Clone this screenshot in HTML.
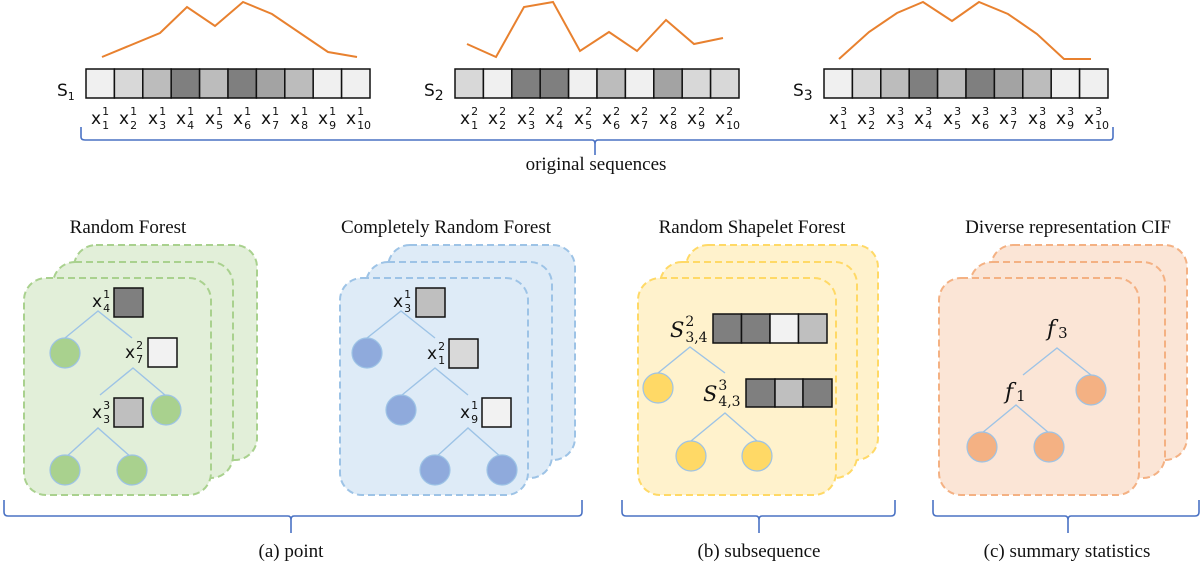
<!DOCTYPE html>
<html><head><meta charset="utf-8"><style>
body{margin:0;background:#fff}
svg{display:block}
.t{font-family:"Liberation Serif",serif;font-size:19px;fill:#111}
.x{font-family:"DejaVu Sans","Liberation Sans",sans-serif;font-size:17px;fill:#111}
.s{font-size:11px}
</style></head><body>
<svg width="1200" height="572" viewBox="0 0 1200 572" xmlns="http://www.w3.org/2000/svg">
<!-- top orange lines -->
<g fill="none" stroke="#e8812f" stroke-width="2">
<polyline points="102,57 160,33 187,7 215,26 243,2 272,14 328,52 357,57"/>
<polyline points="467,44 496,57 524,7 553,2 580,51 609,32 637,51 666,20 694,44 723,38"/>
<polyline points="839,59 869,32 897,13 923,2 952,21 979,2 1008,14 1037,34 1064,59 1091,59"/>
</g>
<!-- sequences -->
<g stroke="#111" stroke-width="1.5">
<g id="s1">
<rect x="86" y="69" width="28.4" height="29" fill="#f0f0f0"/>
<rect x="114.4" y="69" width="28.4" height="29" fill="#d8d8d8"/>
<rect x="142.8" y="69" width="28.4" height="29" fill="#bcbcbc"/>
<rect x="171.2" y="69" width="28.4" height="29" fill="#7f7f7f"/>
<rect x="199.6" y="69" width="28.4" height="29" fill="#bcbcbc"/>
<rect x="228" y="69" width="28.4" height="29" fill="#7f7f7f"/>
<rect x="256.4" y="69" width="28.4" height="29" fill="#a3a3a3"/>
<rect x="284.8" y="69" width="28.4" height="29" fill="#bcbcbc"/>
<rect x="313.2" y="69" width="28.4" height="29" fill="#f0f0f0"/>
<rect x="341.6" y="69" width="28.4" height="29" fill="#f0f0f0"/>
</g>
<rect x="455" y="69" width="28.4" height="29" fill="#d8d8d8"/>
<rect x="483.4" y="69" width="28.4" height="29" fill="#f0f0f0"/>
<rect x="511.8" y="69" width="28.4" height="29" fill="#7f7f7f"/>
<rect x="540.2" y="69" width="28.4" height="29" fill="#7f7f7f"/>
<rect x="568.6" y="69" width="28.4" height="29" fill="#f0f0f0"/>
<rect x="597" y="69" width="28.4" height="29" fill="#bcbcbc"/>
<rect x="625.4" y="69" width="28.4" height="29" fill="#f0f0f0"/>
<rect x="653.8" y="69" width="28.4" height="29" fill="#a3a3a3"/>
<rect x="682.2" y="69" width="28.4" height="29" fill="#d8d8d8"/>
<rect x="710.6" y="69" width="28.4" height="29" fill="#d8d8d8"/>
<use href="#s1" x="738" y="0"/>
</g>
<text class="x" x="57" y="96" font-size="22">S<tspan class="s" font-size="14" dy="4">1</tspan></text>
<text class="x" x="424" y="96" font-size="22">S<tspan font-size="14" dy="4">2</tspan></text>
<text class="x" x="793" y="96" font-size="22">S<tspan font-size="14" dy="4">3</tspan></text>
<!-- x labels -->
<g class="x">
<g id="lab1">
<text x="91" y="124">x<tspan class="s" dx="1" dy="-9">1</tspan><tspan class="s" dx="-7" dy="14">1</tspan></text>
<text x="119" y="124">x<tspan class="s" dx="1" dy="-9">1</tspan><tspan class="s" dx="-7" dy="14">2</tspan></text>
<text x="148" y="124">x<tspan class="s" dx="1" dy="-9">1</tspan><tspan class="s" dx="-7" dy="14">3</tspan></text>
<text x="176" y="124">x<tspan class="s" dx="1" dy="-9">1</tspan><tspan class="s" dx="-7" dy="14">4</tspan></text>
<text x="205" y="124">x<tspan class="s" dx="1" dy="-9">1</tspan><tspan class="s" dx="-7" dy="14">5</tspan></text>
<text x="233" y="124">x<tspan class="s" dx="1" dy="-9">1</tspan><tspan class="s" dx="-7" dy="14">6</tspan></text>
<text x="261" y="124">x<tspan class="s" dx="1" dy="-9">1</tspan><tspan class="s" dx="-7" dy="14">7</tspan></text>
<text x="290" y="124">x<tspan class="s" dx="1" dy="-9">1</tspan><tspan class="s" dx="-7" dy="14">8</tspan></text>
<text x="318" y="124">x<tspan class="s" dx="1" dy="-9">1</tspan><tspan class="s" dx="-7" dy="14">9</tspan></text>
<text x="346" y="124">x<tspan class="s" dx="1" dy="-9">1</tspan><tspan class="s" dx="-7" dy="14">10</tspan></text>
</g>
<text x="460" y="124">x<tspan class="s" dx="1" dy="-9">2</tspan><tspan class="s" dx="-7" dy="14">1</tspan></text>
<text x="488" y="124">x<tspan class="s" dx="1" dy="-9">2</tspan><tspan class="s" dx="-7" dy="14">2</tspan></text>
<text x="517" y="124">x<tspan class="s" dx="1" dy="-9">2</tspan><tspan class="s" dx="-7" dy="14">3</tspan></text>
<text x="545" y="124">x<tspan class="s" dx="1" dy="-9">2</tspan><tspan class="s" dx="-7" dy="14">4</tspan></text>
<text x="574" y="124">x<tspan class="s" dx="1" dy="-9">2</tspan><tspan class="s" dx="-7" dy="14">5</tspan></text>
<text x="602" y="124">x<tspan class="s" dx="1" dy="-9">2</tspan><tspan class="s" dx="-7" dy="14">6</tspan></text>
<text x="630" y="124">x<tspan class="s" dx="1" dy="-9">2</tspan><tspan class="s" dx="-7" dy="14">7</tspan></text>
<text x="659" y="124">x<tspan class="s" dx="1" dy="-9">2</tspan><tspan class="s" dx="-7" dy="14">8</tspan></text>
<text x="687" y="124">x<tspan class="s" dx="1" dy="-9">2</tspan><tspan class="s" dx="-7" dy="14">9</tspan></text>
<text x="715" y="124">x<tspan class="s" dx="1" dy="-9">2</tspan><tspan class="s" dx="-7" dy="14">10</tspan></text>
<text x="829" y="124">x<tspan class="s" dx="1" dy="-9">3</tspan><tspan class="s" dx="-7" dy="14">1</tspan></text>
<text x="857" y="124">x<tspan class="s" dx="1" dy="-9">3</tspan><tspan class="s" dx="-7" dy="14">2</tspan></text>
<text x="886" y="124">x<tspan class="s" dx="1" dy="-9">3</tspan><tspan class="s" dx="-7" dy="14">3</tspan></text>
<text x="914" y="124">x<tspan class="s" dx="1" dy="-9">3</tspan><tspan class="s" dx="-7" dy="14">4</tspan></text>
<text x="943" y="124">x<tspan class="s" dx="1" dy="-9">3</tspan><tspan class="s" dx="-7" dy="14">5</tspan></text>
<text x="971" y="124">x<tspan class="s" dx="1" dy="-9">3</tspan><tspan class="s" dx="-7" dy="14">6</tspan></text>
<text x="999" y="124">x<tspan class="s" dx="1" dy="-9">3</tspan><tspan class="s" dx="-7" dy="14">7</tspan></text>
<text x="1028" y="124">x<tspan class="s" dx="1" dy="-9">3</tspan><tspan class="s" dx="-7" dy="14">8</tspan></text>
<text x="1056" y="124">x<tspan class="s" dx="1" dy="-9">3</tspan><tspan class="s" dx="-7" dy="14">9</tspan></text>
<text x="1084" y="124">x<tspan class="s" dx="1" dy="-9">3</tspan><tspan class="s" dx="-7" dy="14">10</tspan></text>
</g>
<!-- braces -->
<g fill="none" stroke="#4a72c4" stroke-width="1.6">
<path d="M81,127 V137 Q81,140 85,140 H592 Q595,140 595,144 V155 M595,144 Q595,140 598,140 H1110 Q1113,140 1113,137 V127"/>
<path d="M4,500 V512 Q4,516 8,516 H288 Q291,516 291,520 V533 M291,520 Q291,516 294,516 H578 Q582,516 582,512 V500"/>
<path d="M622,500 V512 Q622,516 626,516 H756 Q759,516 759,520 V533 M759,520 Q759,516 762,516 H891 Q895,516 895,512 V500"/>
<path d="M933,500 V512 Q933,516 937,516 H1065 Q1068,516 1068,520 V533 M1068,520 Q1068,516 1071,516 H1195 Q1199,516 1199,512 V500"/>
</g>
<text class="t" x="596" y="170" text-anchor="middle">original sequences</text>
<text class="t" x="291" y="557" text-anchor="middle">(a) point</text>
<text class="t" x="759" y="557" text-anchor="middle">(b) subsequence</text>
<text class="t" x="1067" y="557" text-anchor="middle">(c) summary statistics</text>
<!-- titles -->
<text class="t" x="128" y="233" text-anchor="middle">Random Forest</text>
<text class="t" x="446" y="233" text-anchor="middle">Completely Random Forest</text>
<text class="t" x="752" y="233" text-anchor="middle">Random Shapelet Forest</text>
<text class="t" x="1068" y="233" text-anchor="middle">Diverse representation CIF</text>
<!-- cards -->
<g stroke-width="2" stroke-dasharray="7,4">
<g fill="#e2efd9" stroke="#a9d18e">
<rect x="74" y="245" width="183" height="215" rx="22"/>
<rect x="53" y="262" width="180" height="216" rx="22"/>
<rect x="24" y="278" width="187" height="217" rx="22"/>
</g>
<g fill="#deebf7" stroke="#9dc3e6">
<rect x="388" y="245" width="187" height="215" rx="22"/>
<rect x="366" y="262" width="186" height="216" rx="22"/>
<rect x="340" y="278" width="188" height="217" rx="22"/>
</g>
<g fill="#fff2cc" stroke="#ffd966">
<rect x="686" y="245" width="192" height="215" rx="22"/>
<rect x="660" y="262" width="197" height="216" rx="22"/>
<rect x="638" y="278" width="198" height="217" rx="22"/>
</g>
<g fill="#fbe5d6" stroke="#f4b183">
<rect x="991" y="245" width="196" height="215" rx="22"/>
<rect x="970" y="262" width="195" height="216" rx="22"/>
<rect x="939" y="278" width="200" height="217" rx="22"/>
</g>
</g>
<!-- tree edges -->
<g stroke="#9dc3e6" stroke-width="1.4" fill="none">
<path d="M65,338 L98,311 L132,338 M100,395 L133,368 L165,395 M65,458 L98,428 L132,458"/>
<path d="M367,338 L401,311 L435,338 M402,395 L435,368 L468,395 M435,458 L468,428 L502,458"/>
<path d="M658,373 L690,347 L725,373 M691,441 L725,413 L757,441"/>
<path d="M1023,375 L1057,348 L1091,375 M982,433 L1016,405 L1049,433"/>
</g>
<!-- circles -->
<g stroke="#9dc3e6" stroke-width="1.2">
<g fill="#a9d18e"><circle cx="65" cy="353" r="15"/><circle cx="166" cy="410" r="15"/><circle cx="65" cy="470" r="15"/><circle cx="132" cy="470" r="15"/></g>
<g fill="#8faadc"><circle cx="367" cy="353" r="15"/><circle cx="401" cy="410" r="15"/><circle cx="435" cy="470" r="15"/><circle cx="502" cy="470" r="15"/></g>
<g fill="#ffd966"><circle cx="658" cy="388" r="15"/><circle cx="691" cy="456" r="15"/><circle cx="757" cy="456" r="15"/></g>
<g fill="#f4b183"><circle cx="1091" cy="390" r="15"/><circle cx="982" cy="447" r="15"/><circle cx="1049" cy="447" r="15"/></g>
</g>
<!-- squares -->
<g stroke="#111" stroke-width="1.5">
<rect x="114" y="288" width="29" height="29" fill="#7f7f7f"/>
<rect x="148" y="338" width="29" height="29" fill="#f2f2f2"/>
<rect x="114" y="398" width="29" height="29" fill="#bfbfbf"/>
<rect x="416" y="288" width="29" height="29" fill="#bfbfbf"/>
<rect x="449" y="339" width="29" height="29" fill="#d9d9d9"/>
<rect x="482" y="398" width="29" height="29" fill="#f2f2f2"/>
<rect x="713" y="314" width="28.5" height="29" fill="#7f7f7f"/>
<rect x="741.5" y="314" width="28.5" height="29" fill="#7f7f7f"/>
<rect x="770" y="314" width="28.5" height="29" fill="#f2f2f2"/>
<rect x="798.5" y="314" width="28.5" height="29" fill="#bfbfbf"/>
<rect x="746" y="379" width="29" height="28" fill="#7f7f7f"/>
<rect x="775" y="379" width="28" height="28" fill="#bfbfbf"/>
<rect x="803" y="379" width="29" height="28" fill="#7f7f7f"/>
</g>
<g class="x">
<text x="92" y="307">x<tspan class="s" dx="1" dy="-9">1</tspan><tspan class="s" dx="-7" dy="14">4</tspan></text>
<text x="125" y="358">x<tspan class="s" dx="1" dy="-9">2</tspan><tspan class="s" dx="-7" dy="14">7</tspan></text>
<text x="92" y="418">x<tspan class="s" dx="1" dy="-9">3</tspan><tspan class="s" dx="-7" dy="14">3</tspan></text>
<text x="393" y="307">x<tspan class="s" dx="1" dy="-9">1</tspan><tspan class="s" dx="-7" dy="14">3</tspan></text>
<text x="427" y="359">x<tspan class="s" dx="1" dy="-9">2</tspan><tspan class="s" dx="-7" dy="14">1</tspan></text>
<text x="460" y="418">x<tspan class="s" dx="1" dy="-9">1</tspan><tspan class="s" dx="-7" dy="14">9</tspan></text>
</g>
<g font-family="'DejaVu Serif','Liberation Serif',serif" fill="#111">
<text x="670" y="337" font-size="21" font-style="italic">S<tspan font-size="14" font-style="normal" dx="1" dy="-11">2</tspan><tspan font-size="14" font-style="normal" dx="-9" dy="16">3,4</tspan></text>
<text x="703" y="401" font-size="21" font-style="italic">S<tspan font-size="14" font-style="normal" dx="1" dy="-11">3</tspan><tspan font-size="14" font-style="normal" dx="-9" dy="16">4,3</tspan></text>
<text x="1047" y="336" font-size="22" font-style="italic">f<tspan font-size="15" font-style="normal" dx="3" dy="2">3</tspan></text>
<text x="1005" y="399" font-size="22" font-style="italic">f<tspan font-size="15" font-style="normal" dx="3" dy="2">1</tspan></text>
</g>
</svg>
</body></html>
